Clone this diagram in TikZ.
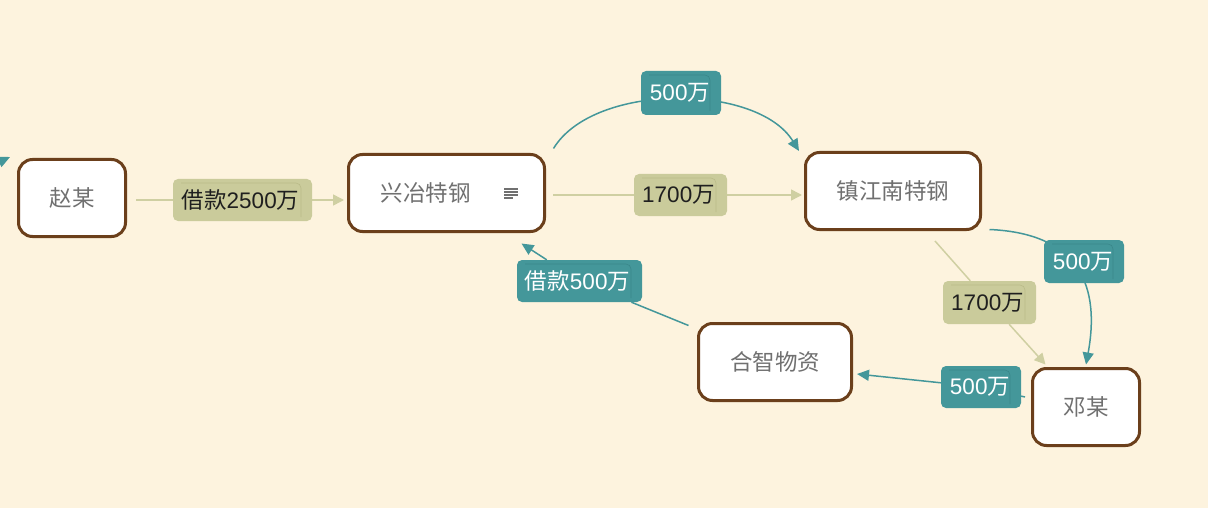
\documentclass[tikz,border=0pt]{standalone}
\usepackage{fontspec}
\setmainfont{Noto Sans CJK SC}
\newfontfamily\latnum{Liberation Sans}
\newcommand\numf[1]{{\latnum #1}}
\usetikzlibrary{arrows.meta}
\definecolor{bg}{HTML}{FDF3DE}
\definecolor{brd}{HTML}{6B3F1B}
\definecolor{khfill}{HTML}{CACB9B}
\definecolor{khline}{HTML}{CFCFA2}
\definecolor{khedge}{HTML}{B9BA88}
\definecolor{tl}{HTML}{44979A}
\definecolor{tledge}{HTML}{3A8689}
\definecolor{txtgray}{HTML}{707070}
\pgfdeclarelayer{bottom}
\pgfdeclarelayer{background}
\pgfsetlayers{bottom,background,main}
\tikzset{
  box/.style={draw=brd, line width=3pt, rounded corners=14pt, fill=white,
    text=txtgray, font=\fontsize{22.5}{26}\selectfont, minimum height=77pt, inner sep=0pt},
  lab/.style={rounded corners=5pt, minimum height=42pt, inner sep=0pt,
    font=\fontsize{22.5}{26}\selectfont},
  khlab/.style={lab, fill=khfill, text=black!88,
    path picture={\draw[khedge, line width=0.6pt]
      ([shift={(8,4)}]path picture bounding box.north west) --
      ([shift={(-11,4)}]path picture bounding box.north east) --
      ([shift={(-11,-4)}]path picture bounding box.south east);}},
  tllab/.style={lab, fill=tl, text=white,
    path picture={\draw[tledge, line width=0.6pt]
      ([shift={(8,4)}]path picture bounding box.north west) --
      ([shift={(-11,4)}]path picture bounding box.north east) --
      ([shift={(-11,-4)}]path picture bounding box.south east);}},
  khl/.style={draw=khline, line width=1.5pt, -{Triangle[length=11pt,width=11pt]}},
  tll/.style={draw=tl, line width=1.5pt, -{Triangle[length=12pt,width=11pt]}}
}
\begin{document}
\begin{tikzpicture}[x=1pt,y=-1pt]
\begin{pgfonlayer}{bottom}
\fill[bg] (0,0) rectangle (1208,508);
\end{pgfonlayer}
\useasboundingbox (0,0) rectangle (1208,508);

% main nodes
\node[box, minimum width=107pt] (zm) at (72,198) {赵某};
\node[box, minimum width=196pt] (xy) at (446.5,193) {兴冶特钢\rule{42pt}{0pt}};
\node[box, minimum width=175pt] (zj) at (893,191) {镇江南特钢};
\node[box, minimum width=153pt] (hz) at (775,362) {合智物资};
\node[box, minimum width=107pt] (dm) at (1086,407) {邓某};

% note icon in 兴冶特钢
\foreach \yy/\ww in {189/14,192/14,195/14,198/9}
  \draw[txtgray, line width=1.4pt] (504,\yy) -- ++(\ww,0);

% labels
\node[khlab, minimum width=139pt] (l1) at (242.5,200) {借款\numf{2500}万\rule{4pt}{0pt}};
\node[khlab, minimum width=93pt]  (l2) at (680.5,195) {\numf{1700}万\rule{4pt}{0pt}};
\node[tllab, minimum width=80pt, minimum height=44pt] (l3) at (681,93) {\numf{500}万\rule{2pt}{0pt}};
\node[tllab, minimum width=80pt, minimum height=43pt] (l4) at (1084,261.5) {\numf{500}万\rule{2pt}{0pt}};
\node[khlab, minimum width=93pt, minimum height=43pt] (l5) at (989.5,302.5) {\numf{1700}万\rule{4pt}{0pt}};
\node[tllab, minimum width=80pt] (l6) at (981,387) {\numf{500}万\rule{2pt}{0pt}};
\node[tllab, minimum width=125pt] (l7) at (579.5,281) {借款\numf{500}万\rule{4pt}{0pt}};

\coordinate (off1) at (-14,168);
\coordinate (off2) at (10,157);

\begin{pgfonlayer}{background}
% 赵某 -> 兴冶特钢
\draw[khl, shorten >=3pt] ([xshift=9pt]zm.east |- l1) -- (l1) -- (xy.west |- l1);
% 兴冶特钢 -> 镇江南特钢 (straight)
\draw[khl, shorten >=2pt] ([xshift=7pt]xy.east |- l2) -- (l2) -- (zj.west |- l2);
% 兴冶特钢 -> 镇江南特钢 (curved)
\draw[tll] ([shift={(7.5,-4.5)}]xy.north east) .. controls +(40,-66) and +(-42,-68) .. ([shift={(-5,0)}]zj.north west);
% 镇江南特钢 -> 邓某 (curved)
\draw[tll] ([shift={(7.5,-1.5)}]zj.south east) .. controls +(92,4) and +(14,-76) .. ([shift={(0,-2.5)}]dm.north);
% 镇江南特钢 -> 邓某 (straight)
\draw[khl] ([shift={(42,10)}]zj.south) -- (l5) -- ([shift={(14.5,-2.5)}]dm.north west);
% 邓某 -> 合智物资
\draw[tll] ([shift={(-6,-10)}]dm.west) -- (l6) -- ([shift={(4,12)}]hz.east);
% 合智物资 -> 兴冶特钢
\draw[tll] ([shift={(-8.5,3.5)}]hz.north west) -- (l7) -- ([shift={(-24.5,10.5)}]xy.south east);
% partial edge at left border
\draw[tll] (off1) -- (off2);
\end{pgfonlayer}
\end{tikzpicture}
\end{document}
